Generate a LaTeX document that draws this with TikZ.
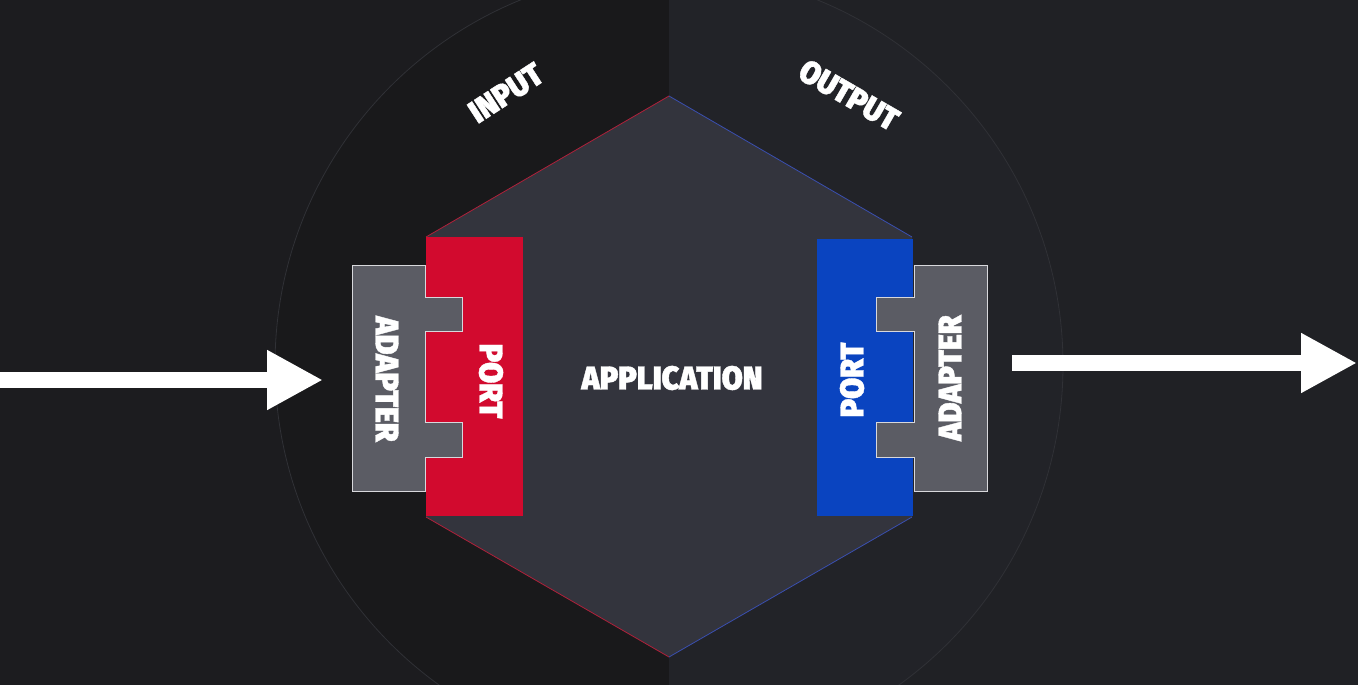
\documentclass[tikz,border=0pt]{standalone}
\usepackage{fontspec}
\setmainfont{Fira Sans}
\newfontfamily\heavyfont{Fira Sans Black}[FakeStretch=0.92, FakeBold=1.2]
\usetikzlibrary{arrows.meta,positioning}

\definecolor{bgleft}{HTML}{1C1C1F}
\definecolor{bgright}{HTML}{202125}
\definecolor{ringleft}{HTML}{19191B}
\definecolor{ringright}{HTML}{222328}
\definecolor{ringedge}{HTML}{303136}
\definecolor{hexfill}{HTML}{33343D}
\definecolor{portred}{HTML}{D20A2E}
\definecolor{portblue}{HTML}{0A44C0}
\definecolor{adaptergray}{HTML}{5B5C64}
\definecolor{adapteredge}{HTML}{D8D8DC}
\definecolor{rededge}{HTML}{B0203A}
\definecolor{blueedge}{HTML}{3A4FB0}

\begin{document}
\begin{tikzpicture}[
x=1pt, y=-1pt,
port/.style={rectangle, inner sep=0pt, minimum width=97pt, minimum height=279pt},
adapter/.style={fill=adaptergray, draw=adapteredge, line width=1pt},
label/.style={text=white, inner sep=0pt, font=\heavyfont\fontsize{33}{33}\selectfont},
arrow/.style={-{Triangle[length=56pt,width=56pt]}, line width=16pt, white}
]

% background and ring
\useasboundingbox (0,0) rectangle (1358,685);
\clip (0,0) rectangle (1358,685);
\fill[bgleft] (0,0) rectangle (669,685);
\fill[bgright] (669,0) rectangle (1358,685);
\begin{scope}
\clip (0,0) rectangle (669,685);
\fill[ringleft] (669,365) circle[radius=394];
\end{scope}
\begin{scope}
\clip (669,0) rectangle (1358,685);
\fill[ringright] (669,365) circle[radius=394];
\end{scope}
\draw[ringedge, line width=0.8pt] (669,365) circle[radius=394];

% hexagon
\fill[hexfill] (669,96) -- (912,237) -- (912,517) -- (669,657) -- (426,517) -- (426,237) -- cycle;
\draw[rededge, line width=0.8pt] (426,237) -- (669,96);
\draw[rededge, line width=0.8pt] (426,517) -- (669,657);
\draw[blueedge, line width=0.8pt] (669,96) -- (912,237);
\draw[blueedge, line width=0.8pt] (669,657) -- (912,517);

% ports
\node[port, fill=portred] (inport) at (474.5,376.5) {};
\node[port, fill=portblue, minimum width=96pt, minimum height=277pt] (outport) at (865,377.5) {};

% adapters
\draw[adapter] (352,265) -- (425,265) -- (425,297) -- (462,297) -- (462,331) -- (425,331)
  -- (425,422) -- (462,422) -- (462,457) -- (425,457) -- (425,491) -- (352,491) -- cycle;
\draw[adapter] (987,265) -- (914,265) -- (914,297) -- (876,297) -- (876,331) -- (914,331)
  -- (914,422) -- (876,422) -- (876,457) -- (914,457) -- (914,491) -- (987,491) -- cycle;

% labels
\node[label] (app) at (672,378) {APPLICATION};
\node[label, rotate=-90] (inportlabel) at (491,381) {PORT};
\node[label, rotate=-90] (inadapterlabel) at (387,379) {ADAPTER};
\node[label, rotate=90] (outportlabel) at (852,380) {PORT};
\node[label, rotate=90] (outadapterlabel) at (950,378) {ADAPTER};
\node[label, rotate=33, font=\heavyfont\fontsize{32}{32}\selectfont] (input) at (506,93) {INPUT};
\node[label, rotate=-30, font=\heavyfont\fontsize{32}{32}\selectfont] (output) at (849,95) {OUTPUT};

% arrows
\coordinate (instart) at (0,380);
\coordinate (inend) at (323,380);
\coordinate (outstart) at (1012,363);
\coordinate (outend) at (1357,363);
\draw[arrow] (instart) -- (inend);
\draw[arrow] (outstart) -- (outend);

\end{tikzpicture}
\end{document}
